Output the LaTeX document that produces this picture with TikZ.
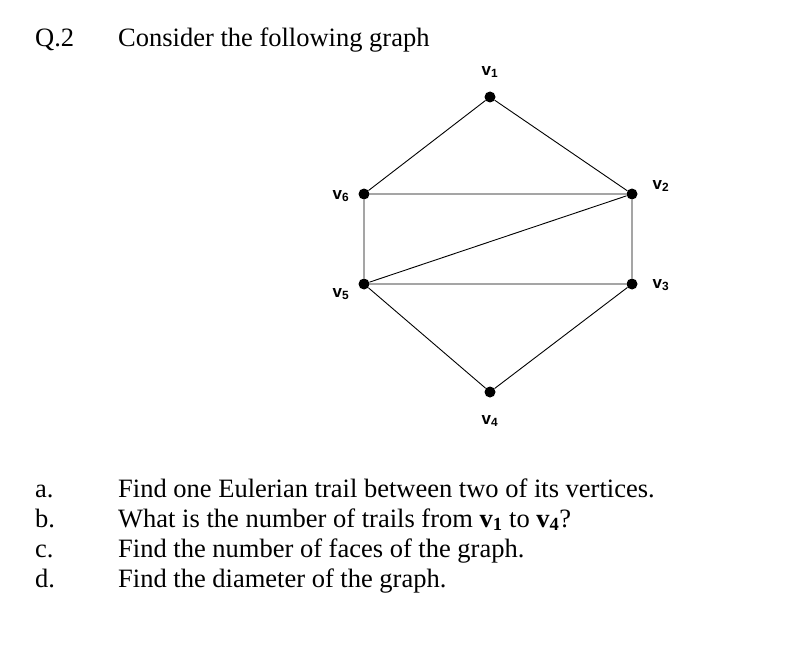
\documentclass[tikz,border=0pt]{standalone}
\usepackage{fontspec}
\setmainfont{Liberation Serif}
\newfontfamily\lblfont{Liberation Sans}
\begin{document}
\begin{tikzpicture}[x=1pt,y=-1pt,
  vtx/.style={circle,fill=black,inner sep=0pt,minimum size=11pt},
  lbl/.style={font=\lblfont\bfseries\fontsize{17}{19}\selectfont},
  txt/.style={anchor=base west,inner sep=0pt,font=\fontsize{26.5}{30}\selectfont},
  edge/.style={draw=black,line width=0.9pt}]
\useasboundingbox (0,0) rectangle (798,658);
\node[vtx] (v1) at (490,97) {};
\node[vtx] (v2) at (632,194) {};
\node[vtx] (v3) at (632,284) {};
\node[vtx] (v4) at (490,392) {};
\node[vtx] (v5) at (364,284) {};
\node[vtx] (v6) at (364,194) {};
\node[lbl] (l1) at (490,72) {v\textsubscript{1}};
\node[lbl] (l2) at (661,186) {v\textsubscript{2}};
\node[lbl] (l3) at (661,285) {v\textsubscript{3}};
\node[lbl] (l4) at (490,421) {v\textsubscript{4}};
\node[lbl] (l5) at (341,294) {v\textsubscript{5}};
\node[lbl] (l6) at (341,196) {v\textsubscript{6}};
\draw[edge] (v1)--(v6) (v1)--(v2) (v6)--(v2) (v6)--(v5) (v5)--(v2) (v5)--(v3) (v2)--(v3) (v5)--(v4) (v4)--(v3);
\node[txt] (q) at (35,47) {Q.2};
\node[txt] (qt) at (118,47) {Consider the following graph};
\node[txt] (a) at (35,497) {a.};
\node[txt] (at) at (118,497) {Find one Eulerian trail between two of its vertices.};
\node[txt] (b) at (35,527) {b.};
\node[txt] (bt) at (118,527) {What is the number of trails from \textbf{v\textsubscript{1}} to \textbf{v\textsubscript{4}}?};
\node[txt] (c) at (35,557) {c.};
\node[txt] (ct) at (118,557) {Find the number of faces of the graph.};
\node[txt] (d) at (35,587) {d.};
\node[txt] (dt) at (118,587) {Find the diameter of the graph.};
\end{tikzpicture}
\end{document}
